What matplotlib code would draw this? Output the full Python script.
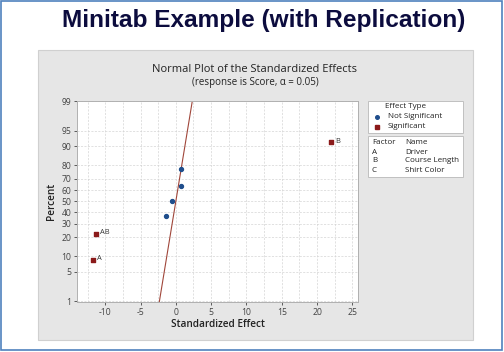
import numpy as np
import matplotlib
matplotlib.use("Agg")
import matplotlib.pyplot as plt
from matplotlib.patches import Rectangle
from statistics import NormalDist

# effects
effect_names = ["A", "AB", "", "", "", "", "B"]
effect_values = [-11.7, -11.3, -1.4, -0.6, 0.7, 0.7, 22.0]
effect_percent = [8.6, 22.4, 36.2, 50.0, 63.8, 77.6, 91.4]
significant = [True, True, False, False, False, False, True]

percent_ticks = [1, 5, 10, 20, 30, 40, 50, 60, 70, 80, 90, 95, 99]
x_ticks = [-10, -5, 0, 5, 10, 15, 20, 25]
line_sigma = 1.0  # fitted reference line: effect = sigma * z

factor_codes = ["A", "B", "C"]
factor_names = ["Driver", "Course Length", "Shirt Color"]

nd = NormalDist()
def z(p):
    return nd.inv_cdf(p / 100.0)

plt.rcParams['font.family'] = ['Open Sans', 'DejaVu Sans']
plt.rcParams['axes.unicode_minus'] = False

W, H = 504, 352
fig = plt.figure(figsize=(W / 100, H / 100), dpi=100)
fig.patch.set_facecolor("white")

def fx(px):
    return px / W

def fy(py):
    return 1 - py / H

# outer slide border
fig.patches.append(Rectangle((fx(1), fy(350)), fx(501), 349 / H, transform=fig.transFigure,
                             fill=False, edgecolor="#4f81bd", linewidth=1.2, zorder=-2))
# gray panel
fig.patches.append(Rectangle((fx(38), fy(340)), fx(435), 290 / H, transform=fig.transFigure,
                             facecolor="#e6e6e6", edgecolor="#d0d0d0", linewidth=0.8, zorder=-2))

fig.text(fx(264), fy(21), "Minitab Example (with Replication)", ha="center", va="center",
         fontsize=17.6, fontweight="bold", color="#0c0c3e", family="Liberation Sans")

fig.text(fx(255), fy(70), "Normal Plot of the Standardized Effects", ha="center", va="center",
         fontsize=8.0, color="#222222")
fig.text(fx(255), fy(82), "(response is Score, \u03b1 = 0.05)", ha="center", va="center",
         fontsize=7.0, color="#222222")

ax = fig.add_axes([fx(77), fy(302), fx(281), 201 / H])
ax.set_zorder(2)
ax.set_facecolor("white")

xs = np.array(effect_values)
zs = np.array([z(p) for p in effect_percent])
sig = np.array(significant)

# reference line
zline = np.array([z(0.5), z(99.5)])
ax.plot(line_sigma * zline, zline, color="#a0463a", linewidth=0.8, zorder=2)

ax.scatter(xs[~sig], zs[~sig], marker="o", s=8, color="#1f4e8c", zorder=3)
ax.scatter(xs[sig], zs[sig], marker="s", s=10, color="#8b1a1a", zorder=3)
for name, xv, zv, s in zip(effect_names, xs, zs, sig):
    if s and name:
        ax.text(xv + 0.6, zv + 0.03, name, fontsize=5.4, color="#333333", va="center")

ax.set_xlim(-14.0, 25.8)
ax.set_ylim(z(0.95), z(99.0) + 0.005)
ax.set_yticks([z(p) for p in percent_ticks])
ax.set_yticklabels([str(p) for p in percent_ticks])
ax.set_xticks(x_ticks)
ax.set_xticks(np.arange(-12.5, 25.1, 5), minor=True)
ax.tick_params(axis="both", labelsize=6.2, colors="#444444", length=2.5, width=0.6, pad=1.5)
ax.tick_params(axis="x", which="minor", length=0)
ax.grid(True, which="both", color="#d4d4d4", linestyle=(0, (3, 2)), linewidth=0.5)
ax.set_axisbelow(True)
for sp in ax.spines.values():
    sp.set_color("#b0b0b0")
    sp.set_linewidth(0.7)

ax.set_xlabel("Standardized Effect", fontsize=7.2, fontweight="semibold", color="#222222", labelpad=2)
ax.set_ylabel("Percent", fontsize=7.2, fontweight="semibold", color="#222222", labelpad=3)

# legend box: effect type
fig.patches.append(Rectangle((fx(368), fy(133)), fx(95), 32 / H, transform=fig.transFigure,
                             facecolor="white", edgecolor="#c0c0c0", linewidth=0.7))
fig.text(fx(385), fy(107), "Effect Type", fontsize=5.8, va="center", color="#222222")
fig.text(fx(388), fy(117), "Not Significant", fontsize=5.8, va="center", color="#222222")
fig.text(fx(388), fy(126), "Significant", fontsize=5.8, va="center", color="#222222")
fig.lines.append(plt.Line2D([fx(377)], [fy(117.5)], marker="o", markersize=2.6,
                            color="#1f4e8c", linestyle="none", transform=fig.transFigure))
fig.lines.append(plt.Line2D([fx(377)], [fy(126.5)], marker="s", markersize=2.8,
                            color="#8b1a1a", linestyle="none", transform=fig.transFigure))

# legend box: factors
fig.patches.append(Rectangle((fx(368), fy(177)), fx(95), 41 / H, transform=fig.transFigure,
                             facecolor="white", edgecolor="#c0c0c0", linewidth=0.7))
fig.text(fx(372), fy(143), "Factor", fontsize=5.8, va="center", color="#222222")
fig.text(fx(405), fy(143), "Name", fontsize=5.8, va="center", color="#222222")
for i, (code, name) in enumerate(zip(factor_codes, factor_names)):
    yy = 152 + 9 * i
    fig.text(fx(372), fy(yy), code, fontsize=5.8, va="center", color="#222222")
    fig.text(fx(405), fy(yy), name, fontsize=5.8, va="center", color="#222222")

fig.savefig("out.png", dpi=100)
